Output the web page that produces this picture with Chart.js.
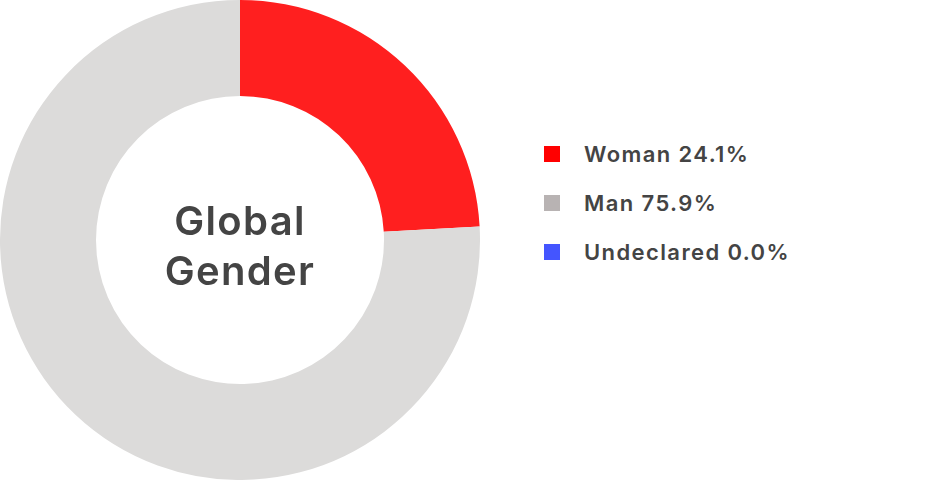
<!DOCTYPE html>
<html>
<head>
<meta charset="utf-8">
<script src="https://cdn.jsdelivr.net/npm/chart.js@4"></script>
<style>
  html, body { margin: 0; padding: 0; background: #fff; }
  body { width: 938px; height: 480px; position: relative; overflow: hidden; font-family: Inter, "Noto Sans", sans-serif; }
  #donut { position: absolute; left: 0; top: 0; width: 480px; height: 480px; }
  #center { position: absolute; left: 0; top: 0; width: 480px; height: 480px; box-sizing: border-box; padding-top: 12px; display: flex; align-items: center; justify-content: center; text-align: center; color: #444; font-weight: 600; font-size: 40px; line-height: 50px; letter-spacing: 1.3px; pointer-events: none; }
  #legend { position: absolute; left: 544px; top: 129px; margin: 0; padding: 0; list-style: none; }
  #legend li { display: flex; align-items: center; height: 49px; color: #444; font-weight: 600; font-size: 22px; letter-spacing: 1.4px; }
  #legend li span.box { display: inline-block; width: 16px; height: 16px; margin-right: 24px; }
</style>
</head>
<body>
<div id="donut"><canvas id="chart"></canvas></div>
<div id="center">Global<br>Gender</div>
<ul id="legend"></ul>
<script>
const categories = ["Woman", "Man", "Undeclared"];
const shares = [24.1, 75.9, 0.0];

const sliceColors = ["#ff1f1f", "#dcdbda", "#4455ff"];
const legendColors = ["#ff0000", "#b8b3b3", "#4455ff"];

const htmlLegend = {
  id: "htmlLegend",
  afterUpdate(chart) {
    const ul = document.getElementById("legend");
    ul.innerHTML = "";
    const values = chart.data.datasets[0].data;
    chart.data.labels.forEach((label, i) => {
      const li = document.createElement("li");
      const box = document.createElement("span");
      box.className = "box";
      box.style.background = legendColors[i];
      li.appendChild(box);
      li.appendChild(document.createTextNode(`${label} ${values[i].toFixed(1)}%`));
      ul.appendChild(li);
    });
  },
};

new Chart(document.getElementById("chart"), {
  type: "doughnut",
  data: {
    labels: categories,
    datasets: [
      {
        data: shares,
        backgroundColor: sliceColors,
        borderWidth: 0,
      },
    ],
  },
  options: {
    responsive: true,
    maintainAspectRatio: false,
    animation: false,
    cutout: "60%",
    layout: { padding: 0 },
    plugins: {
      legend: { display: false },
      tooltip: { enabled: false },
    },
  },
  plugins: [htmlLegend],
});
</script>
</body>
</html>
